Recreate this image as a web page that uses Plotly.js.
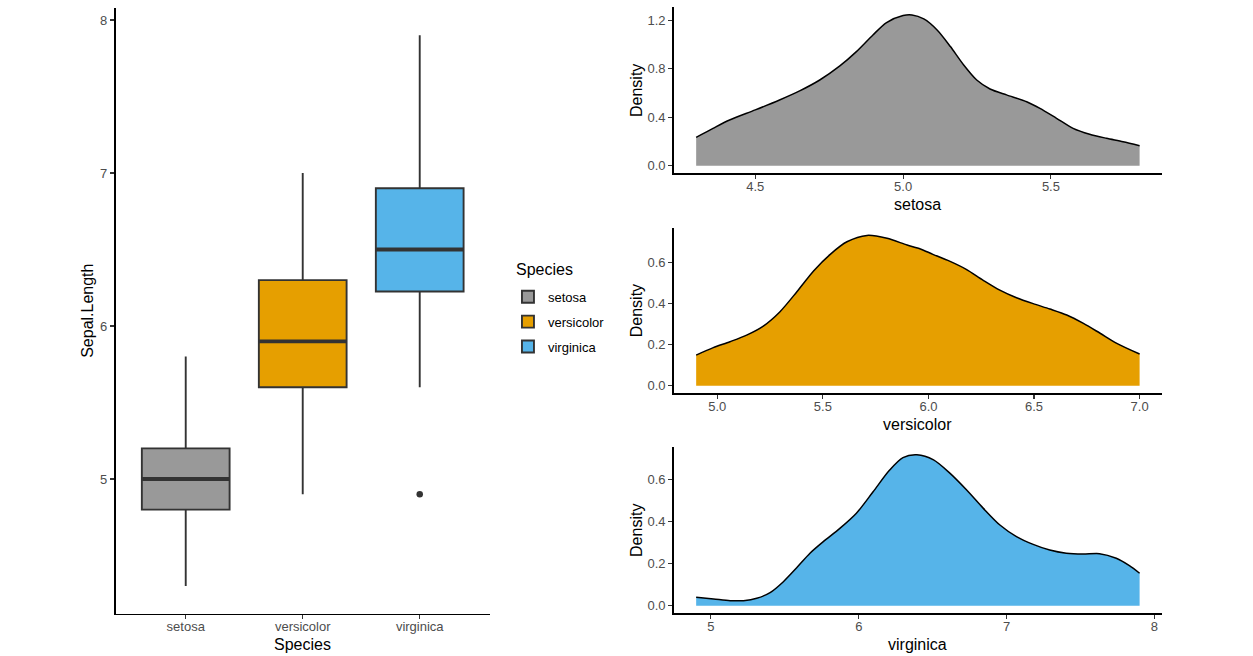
<!DOCTYPE html>
<html>
<head>
<meta charset="utf-8">
<script src="https://cdn.plot.ly/plotly-3.0.1.min.js"></script>
<style>html,body{margin:0;padding:0;background:#fff;}#chart{width:1253px;height:656px;}</style>
</head>
<body>
<div id="chart"></div>
<script>
// ---------- data ----------
const species = ["setosa", "versicolor", "virginica"];
const colors = ["#999999", "#E69F00", "#56B4E9"];
const legendTitle = "Species";
const boxXTitle = "Species";
const boxYTitle = "Sepal.Length";
const densityYTitle = "Density";

// boxplot statistics of Sepal.Length
const q1 = [4.8, 5.6, 6.225];
const medians = [5.0, 5.9, 6.5];
const q3 = [5.2, 6.3, 6.9];
const lowerWhisker = [4.3, 4.9, 5.6];
const upperWhisker = [5.8, 7.0, 7.9];
const outlierSpecies = ["virginica"];
const outlierValues = [4.9];

// density curves
const setosaX = [4.30, 4.357, 4.413, 4.50, 4.582, 4.65, 4.718, 4.786, 4.842, 4.898, 4.944, 5.0, 5.03, 5.07, 5.115, 5.16, 5.205, 5.249, 5.294, 5.35, 5.418, 5.463, 5.519, 5.575, 5.631, 5.688, 5.744, 5.80];
const setosaY = [0.234, 0.308, 0.377, 0.46, 0.542, 0.617, 0.707, 0.823, 0.941, 1.079, 1.181, 1.239, 1.244, 1.211, 1.12, 0.983, 0.831, 0.707, 0.633, 0.584, 0.528, 0.473, 0.391, 0.308, 0.259, 0.226, 0.198, 0.165];

const versicolorX = [4.90, 4.981, 5.06, 5.139, 5.218, 5.297, 5.377, 5.456, 5.535, 5.614, 5.709, 5.804, 5.899, 5.962, 6.021, 6.10, 6.179, 6.258, 6.338, 6.417, 6.496, 6.575, 6.655, 6.734, 6.813, 6.892, 7.0];
const versicolorY = [0.149, 0.185, 0.214, 0.246, 0.29, 0.36, 0.457, 0.558, 0.639, 0.70, 0.731, 0.717, 0.684, 0.665, 0.639, 0.606, 0.566, 0.514, 0.465, 0.428, 0.399, 0.373, 0.344, 0.303, 0.255, 0.206, 0.154];

const virginicaX = [4.90, 5.018, 5.13, 5.22, 5.31, 5.40, 5.49, 5.58, 5.67, 5.76, 5.872, 5.984, 6.097, 6.209, 6.299, 6.393, 6.506, 6.618, 6.73, 6.843, 6.955, 7.067, 7.18, 7.292, 7.404, 7.517, 7.629, 7.742, 7.831, 7.90];
const virginicaY = [0.040, 0.032, 0.024, 0.024, 0.035, 0.062, 0.114, 0.18, 0.249, 0.304, 0.367, 0.439, 0.541, 0.644, 0.703, 0.716, 0.692, 0.628, 0.549, 0.462, 0.383, 0.328, 0.291, 0.264, 0.249, 0.245, 0.247, 0.225, 0.19, 0.154];

// ---------- styling ----------
const FONT = "Liberation Sans, Arial, sans-serif";
const tickFont = {family: FONT, size: 13, color: "#4D4D4D"};
const titleFont = {family: FONT, size: 16, color: "#000000"};
const boxWidth = 0.75;
const lineCol = "#333333";
const W = 1253, H = 656;

function expand(arr, mult) {
  const lo = Math.min(...arr), hi = Math.max(...arr);
  const d = (hi - lo) * mult;
  return [lo - d, hi + d];
}
function expandZero(arr) {
  const hi = Math.max(...arr);
  return [-0.05 * hi, 1.05 * hi];
}

const traces = [];
species.forEach((s, i) => {
  traces.push({
    type: "box", name: s, x: [i], q1: [q1[i]], median: [medians[i]], q3: [q3[i]],
    lowerfence: [lowerWhisker[i]], upperfence: [upperWhisker[i]],
    width: boxWidth, whiskerwidth: 0, boxpoints: false,
    fillcolor: colors[i], line: {color: lineCol, width: 1.9},
    xaxis: "x", yaxis: "y", hoverinfo: "skip", legendgroup: s
  });
});
// thick median lines
species.forEach((s, i) => {
  traces.push({
    type: "scatter", mode: "lines", x: [i - boxWidth / 2, i + boxWidth / 2], y: [medians[i], medians[i]],
    line: {color: lineCol, width: 3.8}, showlegend: false, xaxis: "x", yaxis: "y", hoverinfo: "skip",
    legendgroup: s
  });
});
traces.push({
  type: "scatter", mode: "markers", x: outlierSpecies.map(s => species.indexOf(s)), y: outlierValues,
  marker: {color: lineCol, size: 6.5}, showlegend: false, xaxis: "x", yaxis: "y", hoverinfo: "skip",
  legendgroup: "virginica"
});

const dens = [[setosaX, setosaY], [versicolorX, versicolorY], [virginicaX, virginicaY]];
dens.forEach((d, i) => {
  traces.push({
    type: "scatter", mode: "lines", x: d[0], y: d[1], fill: "tozeroy", fillcolor: colors[i],
    line: {color: "#000000", width: 1.5, shape: "spline", smoothing: 0.8},
    showlegend: false, xaxis: "x" + (i + 2), yaxis: "y" + (i + 2), hoverinfo: "skip",
    legendgroup: species[i]
  });
});

function axisBase() {
  return {
    showline: true, linecolor: "#000000", linewidth: 1.8, showgrid: false, zeroline: false,
    ticks: "outside", ticklen: 4, tickwidth: 1.1, tickcolor: lineCol, tickfont: tickFont
  };
}
function xAxisBase() {
  return Object.assign(axisBase(), {ticklabelstandoff: -4});
}

const leftDomain = [0.0922, 0.3910];
const rightDomain = [0.5379, 0.9272];
const mid = d => (d[0] + d[1]) / 2;
function xTitle(text, domain, yPx) {
  return {text: text, xref: "paper", yref: "paper", x: mid(domain), y: 1 - yPx / H,
    xanchor: "center", yanchor: "middle", showarrow: false, font: titleFont};
}

const layout = {
  width: W, height: H, margin: {l: 0, r: 0, t: 0, b: 0},
  paper_bgcolor: "#ffffff", plot_bgcolor: "#ffffff",
  font: {family: FONT},
  showlegend: true,
  legend: {
    x: 0.4054, y: 0.5705, xanchor: "left", yanchor: "top",
    font: {family: FONT, size: 13, color: "#000000"},
    bgcolor: "rgba(0,0,0,0)", traceorder: "grouped", tracegroupgap: 5
  },
  annotations: [
    {text: legendTitle, xref: "paper", yref: "paper", x: 514 / W, y: 1 - 269 / H,
     xanchor: "left", yanchor: "middle", showarrow: false, font: titleFont},
    xTitle(boxXTitle, leftDomain, 644),
    xTitle(species[0], rightDomain, 204),
    xTitle(species[1], rightDomain, 424),
    xTitle(species[2], rightDomain, 644)
  ],
  xaxis: Object.assign(xAxisBase(), {
    domain: leftDomain, range: [-0.6, 2.6], tickvals: [0, 1, 2], ticktext: species, anchor: "y"
  }),
  yaxis: Object.assign(axisBase(), {
    domain: [0.0646, 0.9882], range: expand(lowerWhisker.concat(upperWhisker, outlierValues), 0.05), dtick: 1,
    title: {text: boxYTitle, font: titleFont, standoff: 2}, anchor: "x"
  }),
  xaxis2: Object.assign(xAxisBase(), {
    domain: rightDomain, range: expand(setosaX, 0.05), dtick: 0.5, tickformat: ".1f", anchor: "y2"
  }),
  yaxis2: Object.assign(axisBase(), {
    domain: [0.7360, 0.9887], range: expandZero(setosaY), dtick: 0.4, tickformat: ".1f",
    title: {text: densityYTitle, font: titleFont, standoff: 1}, anchor: "x2"
  }),
  xaxis3: Object.assign(xAxisBase(), {
    domain: rightDomain, range: expand(versicolorX, 0.05), dtick: 0.5, tickformat: ".1f", anchor: "y3"
  }),
  yaxis3: Object.assign(axisBase(), {
    domain: [0.4006, 0.6526], range: expandZero(versicolorY), dtick: 0.2, tickformat: ".1f",
    title: {text: densityYTitle, font: titleFont, standoff: 1}, anchor: "x3"
  }),
  xaxis4: Object.assign(xAxisBase(), {
    domain: rightDomain, range: expand(virginicaX, 0.05), dtick: 1, anchor: "y4"
  }),
  yaxis4: Object.assign(axisBase(), {
    domain: [0.0652, 0.3181], range: expandZero(virginicaY), dtick: 0.2, tickformat: ".1f",
    title: {text: densityYTitle, font: titleFont, standoff: 1}, anchor: "x4"
  })
};

Plotly.newPlot("chart", traces, layout, {staticPlot: true, displayModeBar: false});
</script>
</body>
</html>
